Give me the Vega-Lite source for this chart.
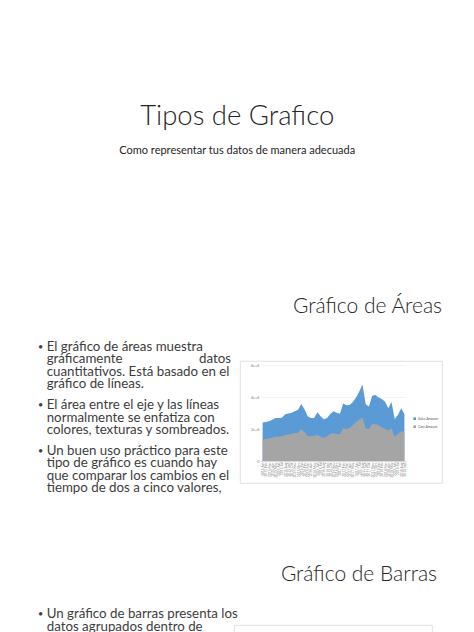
{
  "$schema": "https://vega.github.io/schema/vega-lite/v6.json",
  "background": "white",
  "padding": {"left": 38, "top": 103, "right": 0, "bottom": 0},
  "title": {
    "text": "Tipos de Grafico",
    "subtitle": "Como representar tus datos de manera adecuada",
    "anchor": "middle",
    "dx": -3,
    "font": "Lato",
    "fontSize": 27.5,
    "fontWeight": 300,
    "color": "#262626",
    "subtitleFont": "Lato",
    "subtitleFontSize": 11,
    "subtitleColor": "#262626",
    "subtitlePadding": 14,
    "offset": 140
  },
  "config": {"view": {"stroke": null}, "font": "Lato"},
  "datasets": {
    "textoAreas": [
      {"parrafo": 1, "renglon": 1, "linea": 0, "lado": "izq", "texto": "El gráfico de áreas muestra"},
      {"parrafo": 1, "renglon": 2, "linea": 1, "lado": "izq", "texto": "gráficamente"},
      {"parrafo": 1, "renglon": 2, "linea": 1, "lado": "der", "texto": "datos"},
      {"parrafo": 1, "renglon": 3, "linea": 2, "lado": "izq", "texto": "cuantitativos. Está basado en el"},
      {"parrafo": 1, "renglon": 4, "linea": 3, "lado": "izq", "texto": "gráfico de líneas."},
      {"parrafo": 2, "renglon": 1, "linea": 4, "lado": "izq", "texto": "El área entre el eje y las líneas"},
      {"parrafo": 2, "renglon": 2, "linea": 5, "lado": "izq", "texto": "normalmente se enfatiza con"},
      {"parrafo": 2, "renglon": 3, "linea": 6, "lado": "izq", "texto": "colores, texturas y sombreados."},
      {"parrafo": 3, "renglon": 1, "linea": 7, "lado": "izq", "texto": "Un buen uso práctico para este"},
      {"parrafo": 3, "renglon": 2, "linea": 8, "lado": "izq", "texto": "tipo de gráfico es cuando hay"},
      {"parrafo": 3, "renglon": 3, "linea": 9, "lado": "izq", "texto": "que comparar los cambios en el"},
      {"parrafo": 3, "renglon": 4, "linea": 10, "lado": "izq", "texto": "tiempo de dos a cinco valores,"}
    ],
    "textoBarras": [
      {"parrafo": 1, "renglon": 1, "linea": 0, "lado": "izq", "texto": "Un gráfico de barras presenta los"},
      {"parrafo": 1, "renglon": 2, "linea": 1, "lado": "izq", "texto": "datos agrupados dentro de"}
    ],
    "ventas": [
      {"mes": "2015 Jan", "Sales Amount": 2400000, "Cost Amount": 1360000},
      {"mes": "2015 Feb", "Sales Amount": 2440000, "Cost Amount": 1380000},
      {"mes": "2015 Mar", "Sales Amount": 2490000, "Cost Amount": 1410000},
      {"mes": "2015 Apr", "Sales Amount": 2580000, "Cost Amount": 1450000},
      {"mes": "2015 May", "Sales Amount": 2690000, "Cost Amount": 1510000},
      {"mes": "2015 Jun", "Sales Amount": 2680000, "Cost Amount": 1510000},
      {"mes": "2015 Jul", "Sales Amount": 2700000, "Cost Amount": 1550000},
      {"mes": "2015 Aug", "Sales Amount": 2920000, "Cost Amount": 1630000},
      {"mes": "2015 Sep", "Sales Amount": 2970000, "Cost Amount": 1660000},
      {"mes": "2015 Oct", "Sales Amount": 3010000, "Cost Amount": 1700000},
      {"mes": "2015 Nov", "Sales Amount": 3110000, "Cost Amount": 1740000},
      {"mes": "2015 Dec", "Sales Amount": 3200000, "Cost Amount": 1760000},
      {"mes": "2016 Jan", "Sales Amount": 3560000, "Cost Amount": 1990000},
      {"mes": "2016 Feb", "Sales Amount": 3240000, "Cost Amount": 1820000},
      {"mes": "2016 Mar", "Sales Amount": 2800000, "Cost Amount": 1570000},
      {"mes": "2016 Apr", "Sales Amount": 2690000, "Cost Amount": 1540000},
      {"mes": "2016 May", "Sales Amount": 2690000, "Cost Amount": 1580000},
      {"mes": "2016 Jun", "Sales Amount": 3050000, "Cost Amount": 1640000},
      {"mes": "2016 Jul", "Sales Amount": 2800000, "Cost Amount": 1520000},
      {"mes": "2016 Aug", "Sales Amount": 2610000, "Cost Amount": 1430000},
      {"mes": "2016 Sep", "Sales Amount": 2690000, "Cost Amount": 1540000},
      {"mes": "2016 Oct", "Sales Amount": 2940000, "Cost Amount": 1690000},
      {"mes": "2016 Nov", "Sales Amount": 3110000, "Cost Amount": 1750000},
      {"mes": "2016 Dec", "Sales Amount": 3010000, "Cost Amount": 1670000},
      {"mes": "2017 Jan", "Sales Amount": 2960000, "Cost Amount": 1690000},
      {"mes": "2017 Feb", "Sales Amount": 3600000, "Cost Amount": 2050000},
      {"mes": "2017 Mar", "Sales Amount": 3480000, "Cost Amount": 2000000},
      {"mes": "2017 Apr", "Sales Amount": 3500000, "Cost Amount": 2060000},
      {"mes": "2017 May", "Sales Amount": 3680000, "Cost Amount": 2230000},
      {"mes": "2017 Jun", "Sales Amount": 3970000, "Cost Amount": 2430000},
      {"mes": "2017 Jul", "Sales Amount": 4350000, "Cost Amount": 2600000},
      {"mes": "2017 Aug", "Sales Amount": 4780000, "Cost Amount": 2720000},
      {"mes": "2017 Sep", "Sales Amount": 3540000, "Cost Amount": 2030000},
      {"mes": "2017 Oct", "Sales Amount": 3400000, "Cost Amount": 2000000},
      {"mes": "2017 Nov", "Sales Amount": 4080000, "Cost Amount": 2320000},
      {"mes": "2017 Dec", "Sales Amount": 4120000, "Cost Amount": 2300000},
      {"mes": "2018 Jan", "Sales Amount": 3970000, "Cost Amount": 2240000},
      {"mes": "2018 Feb", "Sales Amount": 3870000, "Cost Amount": 2090000},
      {"mes": "2018 Mar", "Sales Amount": 3710000, "Cost Amount": 2000000},
      {"mes": "2018 Apr", "Sales Amount": 3300000, "Cost Amount": 1900000},
      {"mes": "2018 May", "Sales Amount": 3680000, "Cost Amount": 2050000},
      {"mes": "2018 Jun", "Sales Amount": 2630000, "Cost Amount": 1500000},
      {"mes": "2018 Jul", "Sales Amount": 2880000, "Cost Amount": 1700000},
      {"mes": "2018 Aug", "Sales Amount": 3300000, "Cost Amount": 1860000},
      {"mes": "2018 Sep", "Sales Amount": 2930000, "Cost Amount": 1820000}
    ]
  },
  "bounds": "flush",
  "spacing": 264,
  "vconcat": [
    {
      "bounds": "flush",
      "spacing": 9,
      "hconcat": [
        {
          "width": 193,
          "height": 122,
          "data": {"name": "textoAreas"},
          "encoding": {
            "y": {"field": "linea", "type": "quantitative", "axis": null,
                  "scale": {"domain": [1.129, 10.968], "nice": false, "zero": false, "reverse": true}},
            "x": {"datum": 0, "type": "quantitative", "axis": null, "scale": {"domain": [0, 1]}}
          },
          "layer": [
            {
              "transform": [{"filter": "datum.renglon == 1 && datum.lado == 'izq'"}],
              "mark": {"type": "text", "text": "•", "align": "left", "baseline": "middle", "fontSize": 9, "color": "#404040",
                       "dy": {"expr": "(datum.parrafo - 1) * 8.6"}}
            },
            {
              "transform": [{"filter": "datum.lado == 'izq'"}],
              "mark": {"type": "text", "align": "left", "baseline": "middle", "dx": 8.7, "fontSize": 13.3, "fontWeight": 400, "color": "#3d3d3d",
                       "dy": {"expr": "(datum.parrafo - 1) * 8.6"}},
              "encoding": {"text": {"field": "texto", "type": "nominal"}}
            },
            {
              "transform": [{"filter": "datum.lado == 'der'"}],
              "mark": {"type": "text", "align": "right", "baseline": "middle", "fontSize": 13.3, "fontWeight": 400, "color": "#3d3d3d",
                       "dy": {"expr": "(datum.parrafo - 1) * 8.6"}},
              "encoding": {
                "x": {"datum": 1, "type": "quantitative"},
                "text": {"field": "texto", "type": "nominal"}
              }
            }
          ]
        },
        {
          "width": 202,
          "height": 122,
          "title": {"text": "Gráfico de Áreas", "anchor": "end", "font": "Lato", "fontSize": 21, "fontWeight": 300, "color": "#262626", "offset": 44},
          "view": {"stroke": "#d9d9d9", "strokeWidth": 0.8},
          "data": {"name": "ventas"},
          "encoding": {
            "x": {"field": "mes", "type": "ordinal", "sort": null, "title": null,
                  "scale": {"type": "point", "range": [21, 166]},
                  "axis": {"labelAngle": -90, "labelFontSize": 3.4, "labelColor": "#7f7f7f", "labelOverlap": false,
                           "offset": -22, "ticks": false, "domainColor": "#d9d9d9", "labelPadding": 1}}
          },
          "layer": [
            {
              "mark": {"type": "area", "opacity": 1},
              "encoding": {
                "y": {"field": "Sales Amount", "type": "quantitative", "title": null,
                      "scale": {"domain": [-1375000, 6250000], "nice": false, "zero": false},
                      "axis": {"values": [0, 1000000, 2000000, 3000000, 4000000, 5000000, 6000000], "format": ",",
                               "labelFontSize": 3.8, "labelColor": "#7f7f7f", "offset": -21, "domain": false, "ticks": false,
                               "gridColor": "#e6e6e6", "gridWidth": 0.5, "labelPadding": 2}},
                "y2": {"datum": 0},
                "color": {"datum": "Sales Amount",
                          "scale": {"domain": ["Sales Amount", "Cost Amount"], "range": ["#5b9bd5", "#a5a5a5"]},
                          "legend": {"orient": "none", "legendX": 375, "legendY": 56, "title": null, "symbolType": "square",
                                     "symbolSize": 7, "labelFontSize": 3.4, "labelColor": "#595959", "rowPadding": 3,
                                     "symbolStrokeWidth": 0, "labelOffset": 1.5}}
              }
            },
            {
              "mark": {"type": "area", "opacity": 1},
              "encoding": {
                "y": {"field": "Cost Amount", "type": "quantitative"},
                "y2": {"datum": 0},
                "color": {"datum": "Cost Amount"}
              }
            }
          ]
        }
      ]
    },
    {
      "bounds": "flush",
      "spacing": 0,
      "hconcat": [
        {
          "width": 196,
          "height": 100,
          "data": {"name": "textoBarras"},
          "encoding": {
            "y": {"field": "linea", "type": "quantitative", "axis": null,
                  "scale": {"domain": [0.85, 8.915], "nice": false, "zero": false, "reverse": true}},
            "x": {"datum": 0, "type": "quantitative", "axis": null, "scale": {"domain": [0, 1]}}
          },
          "layer": [
            {
              "transform": [{"filter": "datum.renglon == 1"}],
              "mark": {"type": "text", "text": "•", "align": "left", "baseline": "middle", "fontSize": 9, "color": "#404040"}
            },
            {
              "mark": {"type": "text", "align": "left", "baseline": "middle", "dx": 8.7, "fontSize": 13.3, "fontWeight": 400, "color": "#3d3d3d"},
              "encoding": {"text": {"field": "texto", "type": "nominal"}}
            }
          ]
        },
        {
          "width": 198,
          "height": 100,
          "title": {"text": "Gráfico de Barras", "anchor": "end", "dx": 5, "font": "Lato", "fontSize": 21, "fontWeight": 300, "color": "#262626", "offset": 40},
          "view": {"stroke": "#d9d9d9", "strokeWidth": 0.8},
          "data": {"values": []},
          "mark": "rect",
          "encoding": {}
        }
      ]
    }
  ]
}
